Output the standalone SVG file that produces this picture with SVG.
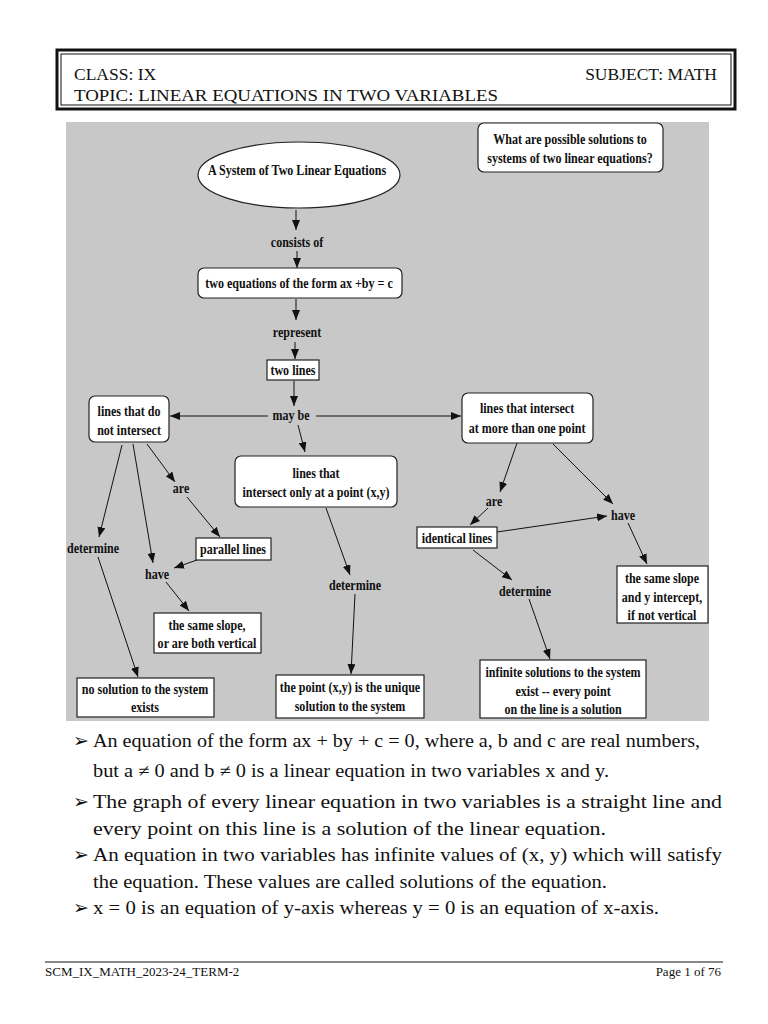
<svg xmlns="http://www.w3.org/2000/svg" width="768" height="1024" viewBox="0 0 768 1024">
<defs>
<style>
.hd{font-family:"Liberation Serif",serif;font-size:17.5px;fill:#111}
.t{font-family:"Liberation Serif",serif;font-size:14px;font-weight:bold;fill:#111;text-anchor:middle;transform-box:fill-box;transform-origin:center;transform:scaleX(0.86)}
.bx{fill:#fff;stroke:#222;stroke-width:1.2}
.c{stroke:#111;stroke-width:1;fill:none;marker-end:url(#ah)}
.b{font-family:"Liberation Serif",serif;font-size:18.5px;fill:#111}
.ft{font-family:"Liberation Serif",serif;font-size:13px;fill:#111}
</style>
<marker id="ah" viewBox="0 0 10 8" refX="10" refY="4" markerWidth="10" markerHeight="8" markerUnits="userSpaceOnUse" orient="auto">
<path d="M0,0 L10,4 L0,8 z" fill="#111"/>
</marker>
</defs>
<rect width="768" height="1024" fill="#fff"/>
<g id="header">
<rect x="57" y="50" width="678" height="59" fill="none" stroke="#111" stroke-width="3"/>
<rect x="61" y="54" width="670" height="51" fill="none" stroke="#111" stroke-width="1"/>
<text class="hd" x="74" y="80">CLASS: IX</text>
<text class="hd" x="717" y="80" text-anchor="end">SUBJECT: MATH</text>
<text class="hd" x="74" y="101" textLength="424" lengthAdjust="spacingAndGlyphs">TOPIC: LINEAR EQUATIONS IN TWO VARIABLES</text>
</g>
<rect x="66" y="122" width="643" height="599" fill="#c8c8c8"/>
<g id="connectors">
<line class="c" x1="296" y1="210" x2="296" y2="230"/>
<line class="c" x1="297" y1="251" x2="297" y2="268"/>
<line class="c" x1="296" y1="299" x2="296" y2="320"/>
<line class="c" x1="295" y1="342" x2="295" y2="359"/>
<line class="c" x1="294" y1="381" x2="294" y2="406"/>
<line class="c" x1="268" y1="416" x2="170" y2="416"/>
<line class="c" x1="316" y1="416" x2="461" y2="416"/>
<line class="c" x1="298" y1="425" x2="305" y2="452"/>
<line class="c" x1="326" y1="508" x2="350" y2="575"/>
<line class="c" x1="355" y1="594" x2="351" y2="674"/>
<line class="c" x1="122" y1="445" x2="99" y2="537"/>
<line class="c" x1="98" y1="557" x2="138" y2="677"/>
<line class="c" x1="133" y1="444" x2="153" y2="563"/>
<line class="c" x1="147" y1="444" x2="175" y2="482"/>
<line class="c" x1="187" y1="497" x2="220" y2="537"/>
<line class="c" x1="197" y1="560" x2="174" y2="568"/>
<line class="c" x1="166" y1="582" x2="189" y2="611"/>
<line class="c" x1="517" y1="443" x2="500" y2="492"/>
<line class="c" x1="488" y1="508" x2="470" y2="525"/>
<line class="c" x1="553" y1="444" x2="613" y2="504"/>
<line class="c" x1="497" y1="532" x2="607" y2="516"/>
<line class="c" x1="628" y1="523" x2="647" y2="564"/>
<line class="c" x1="473" y1="550" x2="512" y2="580"/>
<line class="c" x1="529" y1="599" x2="550" y2="659"/>
</g>
<g id="n-system"><ellipse class="bx" cx="299" cy="175" rx="101" ry="33"/><text class="t" x="297" y="175">A System of Two Linear Equations</text></g>
<g id="n-question"><rect class="bx" x="478" y="123" width="185" height="49" rx="6"/><text class="t" x="570" y="144">What are possible solutions to</text><text class="t" x="570" y="163">systems of two linear equations?</text></g>
<g id="l-consists"><text class="t" x="297" y="247">consists of</text></g>
<g id="n-twoeq"><rect class="bx" x="198" y="268" width="204" height="30" rx="6"/><text class="t" x="299" y="288">two equations of the form ax +by = c</text></g>
<g id="l-represent"><text class="t" x="297" y="337">represent</text></g>
<g id="n-twolines"><rect class="bx" x="267" y="360" width="52" height="20"/><text class="t" x="293" y="375">two lines</text></g>
<g id="l-maybe"><text class="t" x="291" y="420">may be</text></g>
<g id="n-notint"><rect class="bx" x="89" y="396" width="80" height="46" rx="6"/><text class="t" x="129" y="416">lines that do</text><text class="t" x="129" y="435">not intersect</text></g>
<g id="n-moreone"><rect class="bx" x="462" y="393" width="131" height="50" rx="6"/><text class="t" x="527" y="413">lines that intersect</text><text class="t" x="527" y="433">at more than one point</text></g>
<g id="n-onepoint"><rect class="bx" x="235" y="456" width="162" height="51" rx="6"/><text class="t" x="316" y="478">lines that</text><text class="t" x="316" y="497">intersect only at a point (x,y)</text></g>
<g id="l-are1"><text class="t" x="181" y="493">are</text></g>
<g id="l-det1"><text class="t" x="93" y="553">determine</text></g>
<g id="n-parallel"><rect class="bx" x="196" y="538" width="75" height="22"/><text class="t" x="233" y="554">parallel lines</text></g>
<g id="l-have1"><text class="t" x="157" y="579">have</text></g>
<g id="n-sameslope"><rect class="bx" x="154" y="613" width="107" height="40"/><text class="t" x="207" y="630">the same slope,</text><text class="t" x="207" y="648">or are both vertical</text></g>
<g id="n-nosol"><rect class="bx" x="77" y="678" width="137" height="39"/><text class="t" x="145" y="694">no solution to the system</text><text class="t" x="145" y="712">exists</text></g>
<g id="l-det2"><text class="t" x="355" y="590">determine</text></g>
<g id="n-unique"><rect class="bx" x="276" y="675" width="148" height="43"/><text class="t" x="350" y="692">the point (x,y) is the unique</text><text class="t" x="350" y="711">solution to the system</text></g>
<g id="l-are2"><text class="t" x="494" y="506">are</text></g>
<g id="n-identical"><rect class="bx" x="417" y="527" width="80" height="21"/><text class="t" x="457" y="543">identical lines</text></g>
<g id="l-have2"><text class="t" x="623" y="520">have</text></g>
<g id="n-slopeint"><rect class="bx" x="617" y="566" width="91" height="57"/><text class="t" x="662" y="583">the same slope</text><text class="t" x="662" y="602">and y intercept,</text><text class="t" x="662" y="620">if not vertical</text></g>
<g id="l-det3"><text class="t" x="525" y="596">determine</text></g>
<g id="n-infinite"><rect class="bx" x="480" y="660" width="166" height="58"/><text class="t" x="563" y="677">infinite solutions to the system</text><text class="t" x="563" y="696">exist -- every point</text><text class="t" x="563" y="714">on the line is a solution</text></g>
<g id="bullets">
<text class="b" x="73" y="747">➢</text>
<text class="b" x="93" y="747" textLength="607" lengthAdjust="spacingAndGlyphs">An equation of the form ax + by + c = 0, where a, b and c are real numbers,</text>
<text class="b" x="93" y="777" textLength="516" lengthAdjust="spacingAndGlyphs">but a ≠ 0 and b ≠ 0 is a linear equation in two variables x and y.</text>
<text class="b" x="73" y="808">➢</text>
<text class="b" x="93" y="808" textLength="629" lengthAdjust="spacingAndGlyphs">The graph of every linear equation in two variables is a straight line and</text>
<text class="b" x="93" y="835" textLength="513" lengthAdjust="spacingAndGlyphs">every point on this line is a solution of the linear equation.</text>
<text class="b" x="73" y="861">➢</text>
<text class="b" x="93" y="861" textLength="629" lengthAdjust="spacingAndGlyphs">An equation in two variables has infinite values of (x, y) which will satisfy</text>
<text class="b" x="93" y="888" textLength="514" lengthAdjust="spacingAndGlyphs">the equation. These values are called solutions of the equation.</text>
<text class="b" x="73" y="914">➢</text>
<text class="b" x="93" y="914" textLength="566" lengthAdjust="spacingAndGlyphs">x = 0 is an equation of y-axis whereas y = 0 is an equation of x-axis.</text>
</g>
<g id="footer">
<line x1="45" y1="962" x2="723" y2="962" stroke="#111" stroke-width="1"/>
<text class="ft" x="45" y="976">SCM_IX_MATH_2023-24_TERM-2</text>
<text class="ft" x="721" y="976" text-anchor="end">Page 1 of 76</text>
</g>
</svg>
